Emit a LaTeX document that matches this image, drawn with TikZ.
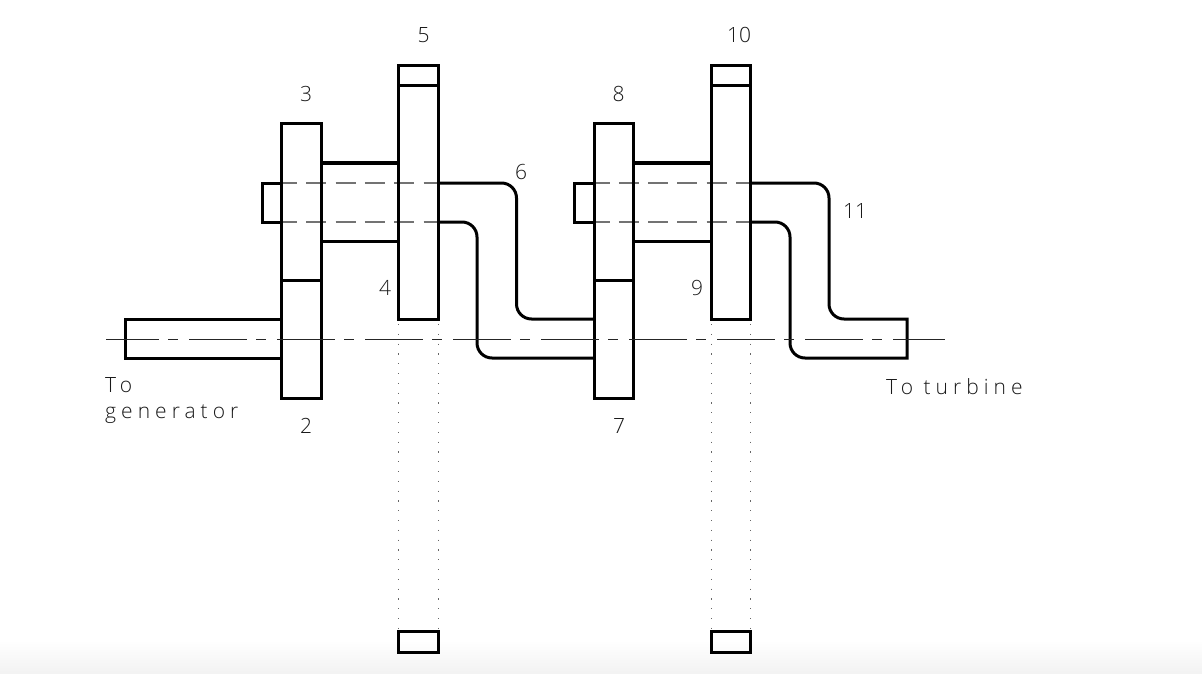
\documentclass[tikz,border=0pt]{standalone}
\usepackage{fontspec}
\setmainfont{Open Sans Light}
\newfontfamily\spaced{Open Sans Light}[LetterSpace=24]
\begin{document}
\begin{tikzpicture}[x=1pt,y=-1pt,
  part/.style={line width=3pt,line join=miter,draw=black},
  crank/.style={part,rounded corners=15pt},
  hidden/.style={line width=1.3pt,draw=black!55,dash pattern=on 20pt off 9.3pt,dash phase=4.5pt},
  centre/.style={line width=1pt,draw=black!85,dash pattern=on 58pt off 9pt on 10pt off 11pt,dash phase=5pt},
  proj/.style={line width=1pt,draw=black!60,dash pattern=on 1.2pt off 8.6pt},
  lbl/.style={font=\fontsize{21}{25}\selectfont,text=black!90,inner sep=0pt,anchor=center},
  lblw/.style={font=\spaced\fontsize{21}{26.5}\selectfont,text=black!90,inner sep=0pt,anchor=west,align=left}]
\useasboundingbox (0,0) rectangle (1202,674);
\fill[white] (0,0) rectangle (1202,674);
\shade[top color=white,bottom color=black!5,draw=none] (0,640) rectangle (1202,674);
% projection lines
\foreach \x in {398.5,438,711,750} \draw[proj] (\x,324) -- (\x,630);
% left shaft
\draw[part] (281.5,319) -- (125,319) -- (125,358) -- (281.5,358);
\foreach \d in {0,312.5}{
  \begin{scope}[xshift=\d pt]
  \draw[part] (321,163) -- (398.5,163);
  \draw[part] (321,241) -- (398.5,241);
  \draw[hidden] (281.5,183) -- (438,183);
  \draw[hidden] (281.5,222) -- (438,222);
  \draw[part] (281.5,124) rectangle (321,398);
  \draw[part] (281.5,280.5) -- (321,280.5);
  \draw[part] (398.5,66) rectangle (438,319);
  \draw[part] (398.5,85.5) -- (438,85.5);
  \draw[part] (281.5,183) -- (262,183) -- (262,222) -- (281.5,222);
  \draw[part] (398.5,631.5) rectangle (438,652);
  \end{scope}
}
% first crank
\draw[crank] (438,183) -- (516.5,183) -- (516.5,319) -- (594,319);
\draw[crank] (438,222) -- (477,222) -- (477,358) -- (594,358);
% second crank and turbine shaft
\draw[part] (750.5,183) [rounded corners=15pt] -- (829,183) -- (829,319) -- (860,319) [sharp corners] -- (907,319) -- (907,358) -- (860,358) [rounded corners=15pt] -- (790,358) -- (790,222) -- (750.5,222);
% centre line
\draw[centre] (106,339) -- (945,339);
% labels
\node[lbl] (n5) at (423.5,35) {5};
\node[lbl] (n3) at (306,94) {3};
\node[lbl] (n6) at (521,171.5) {6};
\node[lbl] (n4) at (385,288) {4};
\node[lbl] (n2) at (306,426) {2};
\node[lblw] (ng) at (105,400.5) {To\\generator};
\node[lbl] (n10) at (739,35) {10};
\node[lbl] (n8) at (618.5,94) {8};
\node[lbl] (n11) at (855,211) {11};
\node[lbl] (n9) at (697,288) {9};
\node[lbl] (n7) at (619,426) {7};
\node[lblw] (nt) at (886,387) {To turbine};
\end{tikzpicture}
\end{document}
